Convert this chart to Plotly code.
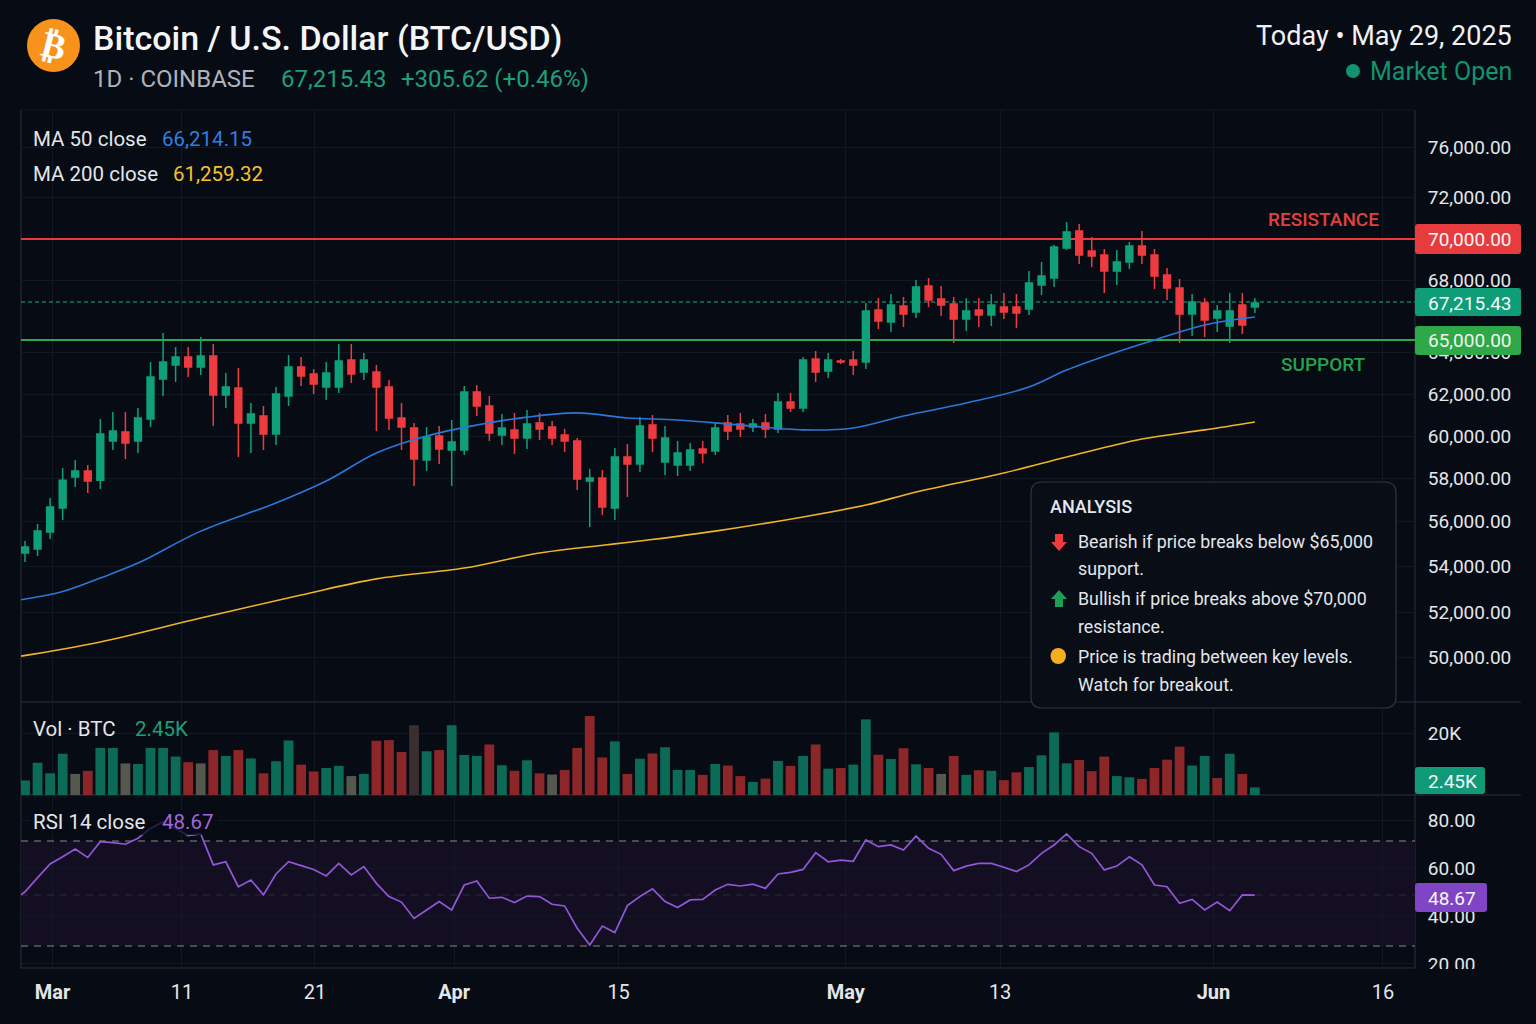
import numpy as np
import plotly.graph_objects as go

# daily OHLC
Open = [54580,54760,55510,56600,58050,58330,57900,59760,60190,59760,60810,62710,63380,63760,63290,63810,61950,62290,60620,60950,
        60100,61900,63290,62950,62330,62330,63620,63050,63050,62330,60860,60380,58860,60000,59330,59330,62100,61430,60050,60290,
        59900,60620,60430,60050,59760,57860,58000,56600,59000,58670,60520,58760,58620,58620,59380,59290,60620,60570,60430,60620,
        60330,61620,61330,63670,63100,63570,63620,63520,66500,65900,66700,66400,67700,67050,66800,66050,66500,66250,66650,66650,
        66550,67750,68100,69560,70380,69420,69220,68440,68880,69660,69220,68240,67600,66300,66850,66100,65700,66750,66650]
High = [55110,55870,57070,58480,58860,58620,60810,61140,61140,61330,63520,65350,64420,64420,65150,64670,63000,63240,61570,61430,
        62330,63860,63760,63190,63520,64670,64670,63950,63380,62670,61570,60620,60430,60480,60760,62380,62430,61900,61050,61100,
        61240,61100,60710,60330,59900,58430,58380,59430,59620,60900,61000,60480,59760,59670,59760,60670,61000,61100,60810,61050,
        62050,62050,63760,64080,63950,63670,64080,66850,67100,67300,67150,68000,68100,67700,67150,67100,67100,67300,67350,67300,
        68440,68880,69710,70810,70710,70100,69510,69460,69850,70380,69510,68590,68050,67300,67100,66750,67350,67350,67100]
Low = [54180,54440,55200,56050,57580,57300,57490,59330,58900,59190,60430,61900,62570,62810,62900,60480,61330,59000,59190,59330,
       59570,61430,62380,62000,61710,62050,62520,62670,60240,60290,59330,57630,58330,58670,57630,59100,60950,59760,59570,59140,
       59380,59810,59570,59240,57440,55730,56280,56050,57120,58290,59240,58140,58100,58330,58710,59100,59810,59950,60190,59900,
       60140,61140,61140,62570,62760,63430,62900,63190,65550,65400,65650,66100,66650,66200,64750,65450,65650,65700,66050,65600,
       66250,67250,67650,69460,68780,68630,67350,67750,68540,68780,67550,67000,64750,65200,65150,65400,64750,65300,66350]
Close = [54840,55560,56650,57900,58330,57860,60100,60240,59670,60860,62810,63520,63760,63290,63810,61950,62330,60620,61050,60100,
         62000,63290,62860,62480,63000,63570,62950,63620,62330,60860,60430,58900,59950,59380,59710,62100,61430,60140,60380,59900,
         60570,60330,59900,59760,57950,58000,56650,59000,58670,60480,59900,59900,59190,59330,59190,60380,60240,60330,60570,60330,
         61620,61330,63620,63050,63620,63520,63380,66450,65950,66750,66300,67650,67000,66750,66050,66450,66250,66750,66400,66350,
         67850,68200,69610,70330,69220,69170,68440,68880,69660,69220,68200,67600,66300,66900,66000,66450,66450,65750,66850]

# volume in thousands, u = green bar, d = red bar, m = muted bar, x = dark bar
Volume = [4.7,10.4,7.0,13.3,6.8,7.8,15.2,15.2,10.2,10.0,15.2,15.2,12.4,10.6,10.2,14.5,12.6,14.5,11.8,7.0,
          10.9,17.6,9.8,7.6,8.7,9.4,6.1,6.8,17.5,17.7,13.9,22.5,14.1,14.5,22.5,12.9,12.6,16.3,9.6,7.8,
          11.2,7.0,6.6,8.1,15.2,25.5,12.1,17.3,6.8,11.7,13.4,15.4,8.1,8.1,6.5,10.0,9.5,6.1,4.2,5.3,
          11.0,9.4,12.6,16.3,8.5,8.7,9.8,24.4,13.0,11.6,15.1,9.9,8.7,6.8,12.6,6.5,8.0,7.8,4.8,7.3,
          9.0,12.8,20.2,10.2,11.3,7.7,12.4,6.1,5.7,5.2,8.7,11.4,15.6,9.5,12.6,5.5,13.3,6.8,2.45]
VolumeDir = list("uuuumduumu" "uuudmdudud" "uudduumudd" "dxuduuudud" "udmddddudu"
                 "duuududdud" "udududuudu" "dudmdududd" "uuuuddduud" "ddduududu")

RSI = [50.1,56.0,61.7,64.7,67.9,64.4,71.0,70.6,69.9,72.4,76.5,79.3,76.5,73.5,74.2,61.3,62.6,52.2,55.0,48.8,
       57.5,62.6,61.0,59.4,56.7,61.9,57.1,60.6,53.6,48.1,45.8,39.0,42.5,46.0,42.5,52.9,54.6,47.4,47.8,45.6,
       48.3,48.1,44.9,44.2,34.9,27.9,35.8,33.1,44.3,48.1,51.3,46.0,43.5,46.7,46.9,50.8,53.2,52.5,53.3,51.5,
       57.5,58.2,59.4,66.4,62.6,63.3,62.8,71.7,68.9,69.6,67.5,73.3,68.2,65.7,58.9,60.8,61.9,61.9,60.3,58.5,
       61.3,66.1,69.6,74.2,68.9,66.1,59.2,60.8,64.7,61.3,52.9,52.2,45.3,46.9,42.5,45.8,42.2,48.8,48.67]
RSI_first = 48.8

MA50_bar = [-0.32,3,6,9,14,20,24,28,32,36,40,44,48,52,57,62,66,70,75,80,83,87,90,94,98]
MA50 = [52530,52890,53480,54130,55550,56840,57860,59190,60000,60520,60900,61100,60860,60760,60520,60290,60380,60950,61570,62330,63140,64000,65000,65750,66150]
MA200_bar = [-0.32,6,14,22,28,35,41,49,55,62,67,71,78,83,89,94,98]
MA200 = [50040,50670,51730,52740,53440,53910,54580,55110,55550,56190,56740,57350,58240,59000,59860,60290,60670]

date_labels = ["<b>Mar</b>","11","21","<b>Apr</b>","15","<b>May</b>","13","<b>Jun</b>","16"]
date_bars = [2.2,12.5,23.1,34.2,47.3,65.4,77.7,94.7,108.2]

price_ticks = [76000,72000,70000,68000,64000,62000,60000,58000,56000,54000,52000,50000]
rsi_ticks = [80,60,40,20]

# the printed price axis is not evenly spaced, so map prices through its own tick spacing
price_anchor = [50000,52000,54000,56000,58000,60000,62000,64000,65000,68000,70000,72000,76000]
scale_anchor = [0,45,91,136,179,221,263,305,317,377,418,460,510]

def Scale(values):
    return np.interp(values, price_anchor, scale_anchor)

RESISTANCE = 70000
SUPPORT = 65000
LAST_ON_AXIS = 66900
RSI_UPPER = 71.25
RSI_LOWER = 27.5
RSI_MID = 48.75

W, H = 1536, 1024
FONT = "Roboto"
BG = "#070b14"
GRID = "#131923"
EDGE = "#2b313c"
GREEN = "#10a078"
RED = "#ee3b3f"

def px(x):
    return x / W

def py(y):
    return 1 - y / H

def RoundRect(x0, y0, x1, y1, r):
    return (f"M {px(x0+r)} {py(y0)} L {px(x1-r)} {py(y0)} Q {px(x1)} {py(y0)} {px(x1)} {py(y0+r)} "
            f"L {px(x1)} {py(y1-r)} Q {px(x1)} {py(y1)} {px(x1-r)} {py(y1)} "
            f"L {px(x0+r)} {py(y1)} Q {px(x0)} {py(y1)} {px(x0)} {py(y1-r)} "
            f"L {px(x0)} {py(y0+r)} Q {px(x0)} {py(y0)} {px(x0+r)} {py(y0)} Z")

def Polygon(points):
    return "M " + " L ".join(f"{px(a)} {py(b)}" for a, b in points) + " Z"

def PaperShape(path, fill, line="rgba(0,0,0,0)", width=0):
    return dict(type="path", xref="paper", yref="paper", path=path, fillcolor=fill,
                line=dict(color=line, width=width), layer="above")

def PaperLine(x0, y0, x1, y1, color=EDGE, width=1, layer="below"):
    return dict(type="line", xref="paper", yref="paper", x0=px(x0), y0=py(y0), x1=px(x1), y1=py(y1),
                line=dict(color=color, width=width), layer=layer)

def Text(x, y, text, color="#e4e6ea", size=20.5, anchor="left", weight=None, font=FONT, angle=0):
    # annotations sit about 2px inside their anchor
    inset = {"left": -2, "right": 2, "center": 0}[anchor]
    return dict(xref="paper", yref="paper", x=px(x + inset), y=py(y), text=text, showarrow=False,
                xanchor=anchor, yanchor="middle", textangle=angle,
                font=dict(family=font, size=size, color=color, weight=weight))

bars = list(range(len(Open)))

fig = go.Figure()
fig.add_trace(go.Candlestick(x=bars, open=Scale(Open), high=Scale(High), low=Scale(Low), close=Scale(Close),
                             increasing=dict(line=dict(color=GREEN, width=1.5), fillcolor=GREEN),
                             decreasing=dict(line=dict(color=RED, width=1.5), fillcolor=RED),
                             hoverinfo="skip", xaxis="x", yaxis="y"))
fig.add_trace(go.Scatter(x=MA50_bar, y=Scale(MA50), mode="lines", line=dict(color="#2a78d8", width=1.6, shape="spline"),
                         hoverinfo="skip", xaxis="x", yaxis="y"))
fig.add_trace(go.Scatter(x=MA200_bar, y=Scale(MA200), mode="lines", line=dict(color="#f0b429", width=1.6, shape="spline"),
                         hoverinfo="skip", xaxis="x", yaxis="y"))

vol_colors = {"u": "#0c6b57", "d": "#8c2629", "m": "#55584c", "x": "#3b2e2e"}
fig.add_trace(go.Bar(x=bars, y=[v * 1000 for v in Volume], width=0.78, marker=dict(color=[vol_colors[d] for d in VolumeDir], line_width=0),
                     hoverinfo="skip", xaxis="x2", yaxis="y2"))
fig.add_trace(go.Scatter(x=[-0.32] + bars, y=[RSI_first] + RSI, mode="lines", line=dict(color="#9157d6", width=1.7),
                         hoverinfo="skip", xaxis="x3", yaxis="y3"))

shapes = []
# rsi band and levels
shapes.append(dict(type="rect", xref="x3", yref="y3", x0=-0.32, x1=110.76, y0=RSI_LOWER, y1=RSI_UPPER,
                   fillcolor="#130e22", line_width=0, layer="below"))
for level in [RSI_UPPER, RSI_LOWER]:
    shapes.append(dict(type="line", xref="x3", yref="y3", x0=-0.32, x1=110.76, y0=level, y1=level,
                       line=dict(color="#85878f", width=1.2, dash="7px,6px"), layer="between"))
shapes.append(dict(type="line", xref="x3", yref="y3", x0=-0.32, x1=110.76, y0=RSI_MID, y1=RSI_MID,
                   line=dict(color="#2c2a3b", width=1, dash="7px,6px"), layer="between"))
# key price levels
shapes.append(dict(type="line", xref="x", yref="y", x0=-0.32, x1=110.76, y0=Scale(RESISTANCE), y1=Scale(RESISTANCE),
                   line=dict(color="#e8393c", width=2), layer="between"))
shapes.append(dict(type="line", xref="x", yref="y", x0=-0.32, x1=110.76, y0=Scale(SUPPORT), y1=Scale(SUPPORT),
                   line=dict(color="#2fa84a", width=2), layer="between"))
shapes.append(dict(type="line", xref="x", yref="y", x0=-0.32, x1=110.76, y0=Scale(LAST_ON_AXIS), y1=Scale(LAST_ON_AXIS),
                   line=dict(color="#1fae85", width=1.2, dash="4px,3px"), layer="between"))
# pane borders
shapes.append(PaperLine(21, 702, 1521, 702))
shapes.append(PaperLine(21, 795, 1521, 795))
shapes.append(PaperLine(21, 968, 1415, 968))
shapes.append(PaperLine(21, 110, 21, 968))
shapes.append(PaperLine(1415, 110, 1415, 968))
shapes.append(PaperLine(21, 110, 1415, 110, color=GRID))

# label backing over the rsi line, and the cut off bottom tick
shapes.append(PaperShape(RoundRect(30, 810, 218, 835, 3), "rgba(7,11,20,0.75)"))
shapes.append(dict(type="rect", xref="paper", yref="paper", x0=px(1416), x1=px(1536), y0=py(982), y1=py(969),
                   fillcolor=BG, line_width=0, layer="above"))

# price tags
shapes.append(PaperShape(RoundRect(1415, 224, 1521, 254, 3), "#e63c3e"))
shapes.append(PaperShape(RoundRect(1415, 288, 1521, 316, 3), "#0f9d78"))
shapes.append(PaperShape(RoundRect(1415, 326, 1521, 355, 3), "#2fa84a"))
shapes.append(PaperShape(RoundRect(1415, 767, 1485, 794, 3), "#119a78"))
shapes.append(PaperShape(RoundRect(1415, 883, 1487, 912, 3), "#7f45c4"))

# analysis box and its icons
shapes.append(PaperShape(RoundRect(1031, 482, 1396, 708, 11), "#080d16", line="#2f3540", width=1.2))
shapes.append(PaperShape(Polygon([(1055,534),(1063,534),(1063,542),(1067,542),(1059,551),(1051,542),(1055,542)]), "#ee3b3f"))
shapes.append(PaperShape(Polygon([(1055,607),(1063,607),(1063,599),(1067,599),(1059,590),(1051,599),(1055,599)]), "#1f9e57"))
shapes.append(dict(type="circle", xref="paper", yref="paper", x0=px(1050.5), x1=px(1066), y0=py(664), y1=py(648),
                   fillcolor="#f5ae20", line_width=0, layer="above"))

# bitcoin logo and status dot
shapes.append(dict(type="circle", xref="paper", yref="paper", x0=px(27), x1=px(80), y0=py(72), y1=py(19),
                   fillcolor="#f7931a", line_width=0, layer="above"))
shapes.append(dict(type="circle", xref="paper", yref="paper", x0=px(1346), x1=px(1360), y0=py(78), y1=py(64),
                   fillcolor="#12936e", line_width=0, layer="above"))

notes = [
    Text(54, 45, "₿", color="white", size=36, anchor="center", weight=700, font="DejaVu Sans", angle=14),
    Text(93, 38, "Bitcoin / U.S. Dollar (BTC/USD)", color="#f4f5f7", size=34, weight=500),
    Text(93, 79, "1D · COINBASE", color="#aeb2ba", size=24),
    Text(281, 79, "67,215.43", color="#1f9e78", size=24),
    Text(401, 79, "+305.62 (+0.46%)", color="#1f9e78", size=24),
    Text(1512, 36, "Today • May 29, 2025", color="#f0f1f3", size=27, anchor="right"),
    Text(1512, 71, "Market Open", color="#12936e", size=25, anchor="right"),
    Text(33, 139, "MA 50 close"),
    Text(162, 139, "66,214.15", color="#2f7fe0"),
    Text(33, 174, "MA 200 close"),
    Text(173, 174, "61,259.32", color="#f5c032"),
    Text(1323, 219, "RESISTANCE", color="#e0413f", size=19, anchor="center", weight=500),
    Text(1323, 364, "SUPPORT", color="#27a24c", size=19, anchor="center", weight=500),
    Text(1470, 239, "70,000.00", color="#f6f6f6", size=19, anchor="center"),
    Text(1470, 303, "67,215.43", color="#f6f6f6", size=19, anchor="center"),
    Text(1470, 340, "65,000.00", color="#f0f4ee", size=19, anchor="center"),
    Text(1452, 781, "2.45K", color="#f6f6f6", size=19, anchor="center"),
    Text(1452, 898, "48.67", color="#f6f6f6", size=19, anchor="center"),
    Text(33, 729, "Vol · BTC"),
    Text(135, 729, "2.45K", color="#1f9e78"),
    Text(33, 822, "RSI 14 close"),
    Text(162, 822, "48.67", color="#a566dc"),
    Text(1050, 506, "ANALYSIS", size=18, weight=500),
    Text(1078, 541, "Bearish if price breaks below $65,000", size=17.8),
    Text(1078, 568, "support.", size=17.8),
    Text(1078, 598, "Bullish if price breaks above $70,000", size=17.8),
    Text(1078, 626, "resistance.", size=17.8),
    Text(1078, 656, "Price is trading between key levels.", size=17.8),
    Text(1078, 684, "Watch for breakout.", size=17.8),
]

x_domain = [px(21), px(1415)]
x_common = dict(domain=x_domain, range=[-0.32, 110.76], showgrid=True, gridcolor=GRID, gridwidth=1, zeroline=False,
                tickmode="array", tickvals=date_bars, ticktext=date_labels, ticks="", showline=False, automargin=False)
y_common = dict(side="right", showgrid=True, gridcolor=GRID, gridwidth=1, zeroline=False, showline=False, automargin=False,
                ticks="outside", ticklen=8, tickcolor="rgba(0,0,0,0)", tickfont=dict(family=FONT, size=19, color="#e4e6ea"))

fig.update_layout(
    width=W, height=H, margin=dict(l=0, r=0, t=0, b=0), autosize=False,
    paper_bgcolor=BG, plot_bgcolor=BG, showlegend=False, boxgap=0.22, barmode="overlay",
    xaxis=dict(x_common, anchor="y", showticklabels=False, rangeslider=dict(visible=False)),
    xaxis2=dict(x_common, anchor="y2", matches="x", showticklabels=False),
    xaxis3=dict(x_common, anchor="y3", matches="x", showticklabels=True, ticks="outside", ticklen=6,
                tickcolor="rgba(0,0,0,0)", tickfont=dict(family=FONT, size=20, color="#e4e6ea")),
    yaxis=dict(y_common, anchor="x", domain=[py(702), py(110)], range=[-45, 547], tickmode="array",
               tickvals=Scale(price_ticks), ticktext=[f"{p:,.2f}" for p in price_ticks]),
    yaxis2=dict(y_common, anchor="x2", domain=[py(795), py(702)], range=[0, 30000], tickmode="array",
                tickvals=[20000], ticktext=["20K"]),
    yaxis3=dict(y_common, anchor="x3", domain=[py(968), py(795)], range=[18.33, 90.42], tickmode="array",
                tickvals=rsi_ticks, ticktext=[f"{r:.2f}" for r in rsi_ticks]),
    shapes=shapes, annotations=notes,
)

page_fix = "document.documentElement.style.overflow='hidden';document.body.style.overflow='hidden';document.body.style.margin='0';"
fig.write_html("out.html", config=dict(displayModeBar=False), post_script=page_fix)
